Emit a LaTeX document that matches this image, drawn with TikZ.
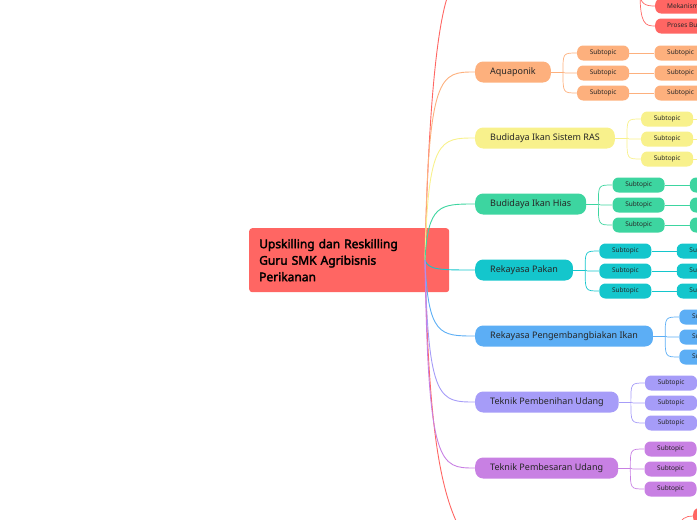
\documentclass[tikz,border=0pt]{standalone}
\usepackage{fontspec}
\setmainfont{Noto Sans}
\newfontfamily\rootfont{Noto Sans}[FakeBold=2.5]
\usetikzlibrary{calc}
\begin{document}
\begin{tikzpicture}[x=1pt,y=-1pt,
  mainbox/.style={rounded corners=8pt,minimum height=21pt,inner ysep=0pt,inner xsep=15pt,anchor=west,font=\fontsize{9}{10}\selectfont,text=black!85},
  subbox/.style={rounded corners=6pt,minimum height=15pt,minimum width=52pt,inner sep=0pt,anchor=west,font=\fontsize{6.5}{7}\selectfont,text=black!85},
  link/.style={line width=0.9pt}]
\useasboundingbox (0,0) rectangle (697,520);
\definecolor{cred}{HTML}{FF6663}
\definecolor{corange}{HTML}{FDB07D}
\definecolor{cyellow}{HTML}{F8F18C}
\definecolor{cgreen}{HTML}{3DD5A0}
\definecolor{ccyan}{HTML}{14C6CC}
\definecolor{cblue}{HTML}{5CAEF5}
\definecolor{cviolet}{HTML}{A69CF8}
\definecolor{cpurple}{HTML}{C880E3}
\coordinate (hub) at (425,260);
\coordinate (topend) at (448,-5);
\coordinate (botend) at (458,525);
\draw[link,cred] (hub) .. controls (428,120) and (436,30) .. (topend);
\draw[link,cred] (hub) .. controls (428,400) and (436,480) .. (botend);
\node[subbox,fill=cred,inner xsep=12pt,anchor=west] (mek) at (655,6) {Mekanisme};
\node[subbox,fill=cred,inner xsep=12pt,anchor=west] (pro) at (655,26) {Proses Budidaya};
\coordinate (redj) at (640,-8);
\draw[link,cred,line width=0.7pt] (redj) .. controls (640,4) and (645,6) .. (mek.west);
\draw[link,cred,line width=0.7pt] (redj) .. controls (640,24) and (645,26) .. (pro.west);
\node[subbox,fill=cred,minimum width=20pt,minimum height=16pt] (botred) at (693,516) {};
\coordinate (botj) at (678,530);
\draw[link,cred,line width=0.7pt] (botj) .. controls (680,518) and (686,516) .. (botred.west);
\node[fill=cred,rounded corners=3pt,minimum width=200pt,minimum height=64pt,text width=180pt,align=left,
  font=\rootfont\fontsize{12}{16.5}\selectfont,anchor=north west] (root) at (249,228)
  {Upskilling dan Reskilling\\Guru SMK Agribisnis\\Perikanan};
\newcommand\mybranch[6]{%
 \node[mainbox,fill=#2] (#1) at (475,#4) {#3};
 \draw[link,#2] (hub) .. controls (428,#4) and (440,#4) .. (#1.west);
 \coordinate (#1j) at ($(#1.east)+(12,0)$);
 \draw[link,#2,line width=0.7pt] (#1.east) -- (#1j);
 \foreach \k/\dy in {a/-20,b/0,c/20}{
   \node[subbox,fill=#2] (#1\k) at ($(#1.east)+(26,\dy+1)$) {Subtopic};
   \draw[link,#2,line width=0.7pt] (#1j) .. controls ($(#1j)+(0,\dy+1)$) .. (#1\k.west);
   \node[subbox,fill=#2] (#1\k2) at ($(#1\k.east)+(25,0)$) {Subtopic};
   \draw[link,#2,line width=0.7pt] (#1\k.east) -- (#1\k2.west);
 }}
\mybranch{aq}{corange}{Aquaponik}{72}{}{}
\mybranch{ras}{cyellow}{Budidaya Ikan Sistem RAS}{138}{}{}
\mybranch{hias}{cgreen}{Budidaya Ikan Hias}{204}{}{}
\mybranch{pakan}{ccyan}{Rekayasa Pakan}{270}{}{}
\mybranch{peng}{cblue}{Rekayasa Pengembangbiakan Ikan}{336}{}{}
\mybranch{benih}{cviolet}{Teknik Pembenihan Udang}{402}{}{}
\mybranch{besar}{cpurple}{Teknik Pembesaran Udang}{468}{}{}
\end{tikzpicture}
\end{document}
